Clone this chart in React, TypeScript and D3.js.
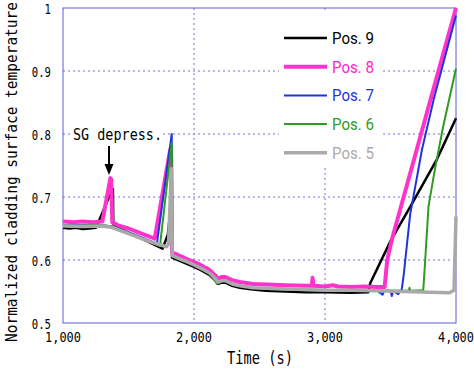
import React from 'react';
import * as d3 from 'd3';

type P = [number, number];

const X_TICKS = [1000, 2000, 3000, 4000];
const X_TICK_LABELS = ['1,000', '2,000', '3,000', '4,000'];
const Y_TICKS = [0.5, 0.6, 0.7, 0.8, 0.9, 1];
const Y_TICK_LABELS = ['0.5', '0.6', '0.7', '0.8', '0.9', '1'];
const X_GRID = [2000, 3000];
const Y_GRID = [0.6, 0.7, 0.8, 0.9];

const SERIES_NAMES = ['Pos. 9', 'Pos. 8', 'Pos. 7', 'Pos. 6', 'Pos. 5'];

const POS9: P[] = [
  [1000, 0.651], [1050, 0.650], [1100, 0.651], [1150, 0.649], [1200, 0.650], [1250, 0.651],
  [1258, 0.654], [1376, 0.712], [1381, 0.713], [1384, 0.657], [1420, 0.651], [1500, 0.643],
  [1600, 0.634], [1700, 0.624], [1760, 0.618], [1800, 0.640], [1826, 0.690], [1832, 0.604],
  [1900, 0.598], [2000, 0.589], [2060, 0.583], [2120, 0.576], [2160, 0.568], [2185, 0.562],
  [2210, 0.564], [2240, 0.564], [2290, 0.559], [2350, 0.556], [2450, 0.553], [2550, 0.551],
  [2700, 0.550], [2850, 0.549], [3000, 0.549], [3200, 0.548], [3330, 0.549], [3345, 0.563],
  [3500, 0.630], [3660, 0.688], [3850, 0.758], [4000, 0.825],
];

const POS8: P[] = [
  [1000, 0.661], [1080, 0.660], [1150, 0.661], [1230, 0.660], [1300, 0.661], [1362, 0.730],
  [1368, 0.728], [1376, 0.660], [1420, 0.655], [1500, 0.650], [1600, 0.642], [1700, 0.634],
  [1818, 0.775], [1826, 0.770], [1832, 0.612], [1900, 0.606], [1950, 0.601], [2000, 0.597],
  [2060, 0.591], [2120, 0.584], [2160, 0.576], [2185, 0.570], [2210, 0.573], [2240, 0.573],
  [2290, 0.568], [2350, 0.565], [2450, 0.562], [2550, 0.561], [2700, 0.560], [2850, 0.559],
  [2900, 0.559], [2905, 0.572], [2912, 0.559], [3000, 0.558], [3060, 0.560], [3100, 0.558],
  [3200, 0.557], [3300, 0.558], [3400, 0.557], [3455, 0.557], [3475, 0.600], [3510, 0.632],
  [3700, 0.775], [3850, 0.888], [4000, 1.0],
];

const POS7: P[] = [
  [1000, 0.655], [1100, 0.655], [1200, 0.655], [1300, 0.655], [1380, 0.653], [1500, 0.644],
  [1600, 0.636], [1717, 0.626], [1830, 0.800], [1836, 0.606], [1900, 0.600], [2000, 0.592],
  [2060, 0.586], [2120, 0.579], [2160, 0.571], [2185, 0.565], [2210, 0.567], [2240, 0.567],
  [2290, 0.562], [2350, 0.559], [2450, 0.556], [2550, 0.554], [2700, 0.553], [2850, 0.552],
  [3000, 0.552], [3200, 0.551], [3400, 0.551], [3440, 0.545], [3450, 0.551], [3500, 0.551],
  [3510, 0.543], [3520, 0.551], [3560, 0.546], [3570, 0.551], [3585, 0.552], [3600, 0.575],
  [3650, 0.672], [3740, 0.775], [3830, 0.855], [4000, 0.988],
];

const POS6: P[] = [
  [1000, 0.655], [1100, 0.654], [1200, 0.655], [1300, 0.655], [1380, 0.653], [1500, 0.643],
  [1600, 0.634], [1740, 0.622], [1830, 0.786], [1836, 0.606], [1900, 0.600], [2000, 0.592],
  [2060, 0.586], [2120, 0.579], [2160, 0.568], [2175, 0.562], [2190, 0.565], [2210, 0.567],
  [2240, 0.567], [2290, 0.562], [2350, 0.559], [2450, 0.556], [2550, 0.554], [2700, 0.553],
  [2850, 0.552], [3000, 0.552], [3200, 0.551], [3400, 0.551], [3640, 0.551], [3645, 0.556],
  [3650, 0.551], [3750, 0.552], [3765, 0.600], [3790, 0.685], [3840, 0.745], [3900, 0.810],
  [4000, 0.904],
];

const POS5: P[] = [
  [1000, 0.654], [1150, 0.653], [1300, 0.654], [1370, 0.652], [1500, 0.642], [1650, 0.630],
  [1790, 0.621], [1805, 0.625], [1828, 0.745], [1834, 0.607], [1900, 0.601], [1950, 0.597],
  [2000, 0.592], [2060, 0.586], [2120, 0.579], [2160, 0.571], [2185, 0.565], [2210, 0.567],
  [2240, 0.567], [2290, 0.562], [2350, 0.559], [2450, 0.556], [2550, 0.555], [2700, 0.554],
  [2850, 0.553], [3000, 0.552], [3200, 0.552], [3400, 0.551], [3600, 0.550], [3800, 0.549],
  [3950, 0.548], [3985, 0.552], [4000, 0.669],
];

const SERIES_DATA = [POS9, POS8, POS7, POS6, POS5];
const SERIES_COLORS = ['#000000', '#ff33cc', '#2233dd', '#2f9a24', '#a9a9a9'];
const SERIES_WIDTHS = [2.5, 4, 2, 2, 3.5];
const LEGEND_TEXT_COLORS = ['#000000', '#ff22cc', '#2233dd', '#2f9a24', '#aaaaaa'];

const GRID_COLOR = '#7373e0';
const BORDER_COLOR = '#5d5dd8';
const MONO = '"DejaVu Sans Mono", monospace';

export default function App() {
  const x = d3.scaleLinear().domain([1000, 4000]).range([63, 456]);
  const y = d3.scaleLinear().domain([0.5, 1]).range([323, 8]);
  const line = d3.line<P>().x((d) => x(d[0])).y((d) => y(d[1]));
  const [x0, x1] = x.range();
  const [y0, y1] = y.range();

  return (
    <svg
      width={474}
      height={369}
      style={{ position: 'absolute', left: 0, top: 0, background: '#fff' }}
    >
      <rect x={0} y={0} width={474} height={369} fill="#fff" />
      {X_GRID.map((t) => (
        <line key={'gx' + t} x1={x(t)} x2={x(t)} y1={y1} y2={y0} stroke={GRID_COLOR}
          strokeWidth={1} strokeDasharray="2,3" />
      ))}
      {Y_GRID.map((v) => (
        <line key={'gy' + v} x1={x0} x2={x1} y1={y(v)} y2={y(v)} stroke={GRID_COLOR}
          strokeWidth={1} strokeDasharray="2,3" />
      ))}
      <rect x={x0} y={y1} width={x1 - x0} height={y0 - y1} fill="none" stroke={BORDER_COLOR} strokeWidth={1} />

      {SERIES_DATA.map((d, i) => (
        <path key={'s' + i} d={line(d) || ''} fill="none" stroke={SERIES_COLORS[i]}
          strokeWidth={SERIES_WIDTHS[i]} strokeLinejoin="round" strokeLinecap="butt" />
      ))}

      {Y_TICKS.map((v, i) => (
        <text key={'yt' + v} x={51} y={y(v) + 5.5} textAnchor="end" fontFamily={MONO}
          fontSize={14.5} fill="#000" textLength={Y_TICK_LABELS[i].length * 6.4}
          lengthAdjust="spacingAndGlyphs">{Y_TICK_LABELS[i]}</text>
      ))}
      {X_TICKS.map((t, i) => (
        <text key={'xt' + t} x={x(t)} y={342} textAnchor="middle" fontFamily={MONO}
          fontSize={14.5} fill="#000" textLength={36} lengthAdjust="spacingAndGlyphs">{X_TICK_LABELS[i]}</text>
      ))}
      <text x={260} y={364} textAnchor="middle" fontFamily={MONO} fontSize={18} fill="#000"
        textLength={66} lengthAdjust="spacingAndGlyphs">Time (s)</text>
      <text transform="translate(17,172) rotate(-90)" textAnchor="middle" fontFamily={MONO}
        fontSize={16} fill="#000" textLength={340} lengthAdjust="spacingAndGlyphs">
        Normalized cladding surface temperature
      </text>

      <rect x={70} y={123} width={93} height={22} fill="#fff" />
      <text x={73} y={140} fontFamily={MONO} fontSize={16} fill="#000" textLength={89}
        lengthAdjust="spacingAndGlyphs">SG depress.</text>
      <line x1={109} x2={109} y1={146} y2={166} stroke="#000" strokeWidth={2} />
      <path d="M104.5,164 L113.5,164 L109,175 Z" fill="#000" />

      <rect x={279} y={12} width={102} height={154} fill="#fff" />
      {SERIES_NAMES.map((n, i) => {
        const cy = 38 + i * 28.7;
        return (
          <g key={'lg' + i}>
            <line x1={284} x2={327} y1={cy} y2={cy} stroke={SERIES_COLORS[i]} strokeWidth={SERIES_WIDTHS[i]} />
            <text x={332} y={cy + 6} fontFamily="Roboto, sans-serif" fontSize={17}
              fill={LEGEND_TEXT_COLORS[i]} textLength={42} lengthAdjust="spacingAndGlyphs">{n}</text>
          </g>
        );
      })}
    </svg>
  );
}
